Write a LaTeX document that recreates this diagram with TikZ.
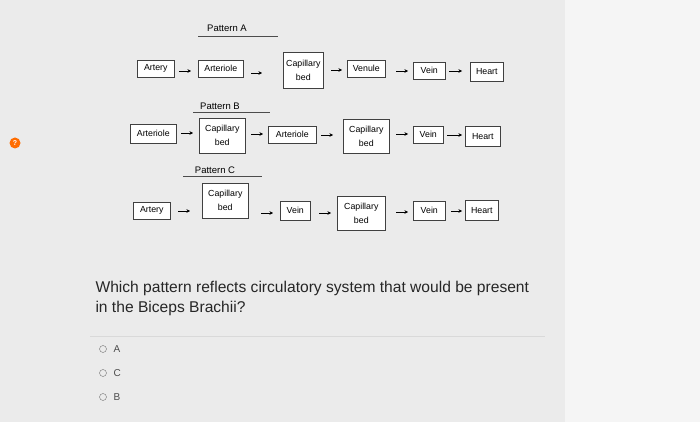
\documentclass[tikz,border=0pt]{standalone}
\usepackage{fontspec}
\setmainfont{Liberation Sans}
\usetikzlibrary{arrows.meta}
\begin{document}
\begin{tikzpicture}[x=1pt,y=-1pt,
  bx/.style={draw=black!75,line width=0.6pt,fill=white,font=\fontsize{8.8}{10}\selectfont,inner sep=0pt,anchor=north west},
  ar/.style={-{Stealth[length=3.5pt,width=3.5pt]},line width=0.8pt},
  ttl/.style={font=\fontsize{9.5}{10}\selectfont},
  ul/.style={line width=0.5pt,black!70},
  opt/.style={font=\fontsize{10}{11}\selectfont,text=black!70}]
\fill[black!8] (0,0) rectangle (700,422);
\fill[black!4] (565,0) rectangle (700,422);
\useasboundingbox (0,0) rectangle (700,422);
\node[circle,fill=orange!85!red,text=white,inner sep=0pt,minimum size=11pt,font=\fontsize{7}{8}\selectfont\bfseries] (q) at (15,143) {?};
% Pattern A
\node[ttl] (ta) at (227,28) {Pattern A};
\draw[ul] (198,36) -- (278,36);
\node[bx,minimum width=37pt,minimum height=17pt] (a1) at (137,60) {Artery};
\node[bx,minimum width=45pt,minimum height=17pt] (a2) at (198,60) {Arteriole};
\node[bx,minimum width=40pt,minimum height=36pt,align=center] (a3) at (283,52) {Capillary\\[4pt]bed};
\node[bx,minimum width=38pt,minimum height=17pt] (a4) at (347,60) {Venule};
\node[bx,minimum width=32pt,minimum height=17pt] (a5) at (413,62) {Vein};
\node[bx,minimum width=33pt,minimum height=19pt] (a6) at (470,62) {Heart};
\foreach \n/\xa/\xb/\y in {1/179/191/71, 2/251/262/73, 3/331/342/70, 4/396/408/71, 5/449/462/71}{
  \coordinate (pa\n) at (\xa,\y); \coordinate (qa\n) at (\xb,\y);
  \draw[ar] (pa\n) -- (qa\n);}
% Pattern B
\node[ttl] (tb) at (220,106) {Pattern B};
\draw[ul] (193,112) -- (270,112);
\node[bx,minimum width=46pt,minimum height=19pt] (b1) at (130,124) {Arteriole};
\node[bx,minimum width=46pt,minimum height=35pt,align=center] (b2) at (199,118) {Capillary\\[4pt]bed};
\node[bx,minimum width=48pt,minimum height=17pt] (b3) at (268,126) {Arteriole};
\node[bx,minimum width=46pt,minimum height=34pt,align=center] (b4) at (343,119) {Capillary\\[4pt]bed};
\node[bx,minimum width=30pt,minimum height=17pt] (b5) at (413,126) {Vein};
\node[bx,minimum width=35pt,minimum height=20pt] (b6) at (465,126) {Heart};
\foreach \n/\xa/\xb/\y in {1/181/193/133, 2/251/263/134, 3/321/333/135, 4/396/408/134, 5/447/462/135}{
  \coordinate (pb\n) at (\xa,\y); \coordinate (qb\n) at (\xb,\y);
  \draw[ar] (pb\n) -- (qb\n);}
% Pattern C
\node[ttl] (tc) at (215,170) {Pattern C};
\draw[ul] (183,176) -- (262,176);
\node[bx,minimum width=37pt,minimum height=17pt] (c1) at (133,202) {Artery};
\node[bx,minimum width=46pt,minimum height=35pt,align=center] (c2) at (202,183) {Capillary\\[4pt]bed};
\node[bx,minimum width=30pt,minimum height=19pt] (c3) at (280,201) {Vein};
\node[bx,minimum width=48pt,minimum height=34pt,align=center] (c4) at (337,196) {Capillary\\[4pt]bed};
\node[bx,minimum width=32pt,minimum height=19pt] (c5) at (413,201) {Vein};
\node[bx,minimum width=33pt,minimum height=20pt] (c6) at (465,200) {Heart};
\foreach \n/\xa/\xb/\y in {1/178/190/211, 2/261/273/213, 3/319/331/213, 4/396/408/212, 5/451/462/211}{
  \coordinate (pc\n) at (\xa,\y); \coordinate (qc\n) at (\xb,\y);
  \draw[ar] (pc\n) -- (qc\n);}
% Question
\node[anchor=west,font=\fontsize{15.6}{19}\selectfont,text=black!85,align=left] (qt) at (92,298) {Which pattern reflects circulatory system that would be present\\[1pt]in the Biceps Brachii?};
\draw[black!15] (90,336) -- (545,336);
\node[circle,draw=black!55,inner sep=0pt,minimum size=7pt] (r1) at (103,349) {};
\node[circle,draw=black!55,inner sep=0pt,minimum size=7pt] (r2) at (103,373) {};
\node[circle,draw=black!55,inner sep=0pt,minimum size=7pt] (r3) at (103,397) {};
\node[opt,anchor=west] (o1) at (110,349) {A};
\node[opt,anchor=west] (o2) at (110,373) {C};
\node[opt,anchor=west] (o3) at (110,397) {B};
\end{tikzpicture}
\end{document}
